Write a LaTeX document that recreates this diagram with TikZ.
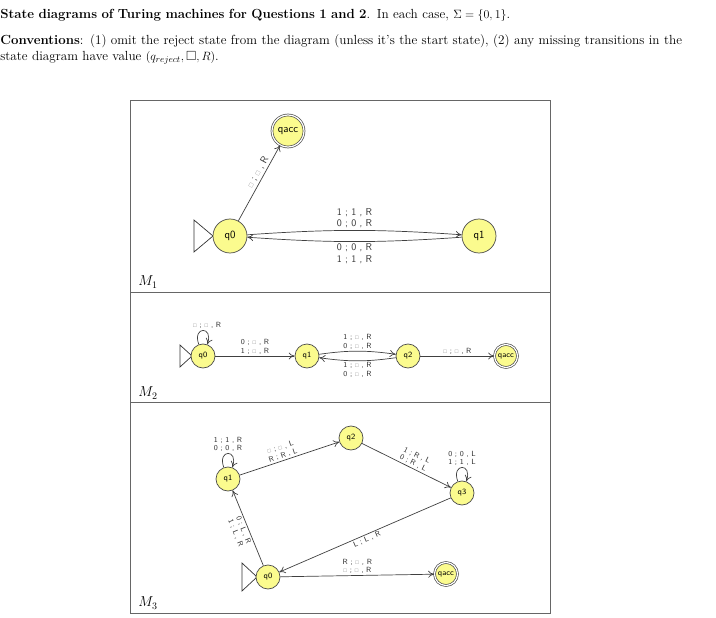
\documentclass[tikz,border=0pt]{standalone}
\usepackage{amssymb}
\usetikzlibrary{arrows.meta}
\definecolor{stfill}{HTML}{FBFB8E}
\newcommand{\bl}{{\color{gray}\scalebox{0.6}{$\square$}}}
\begin{document}
\begin{tikzpicture}[x=1pt,y=-1pt,line width=0.7pt,
  st/.style={circle,draw=black!70,fill=stfill,font=\sffamily\fontsize{8}{9}\selectfont,minimum size=#1,inner sep=0pt},
  st/.default=34pt,
  big/.style={font=\sffamily\fontsize{11}{12}\selectfont},
  acc/.style={st=#1,double,double distance=1.2pt},
  tr/.style={draw=black!75,-{To[length=6pt,width=7pt]}},
  lb/.style={font=\sffamily\fontsize{7.5}{8.5}\selectfont,align=center,text=black!80,inner sep=1.5pt},
  lbig/.style={font=\sffamily\fontsize{10}{11.5}\selectfont,align=center,text=black!80,inner sep=2pt},
  initri/.style={draw=black!80,fill=white}]
\useasboundingbox (0,0) rectangle (716,618);
% header
\node[anchor=north west,text width=700pt,align=left,inner sep=0pt,font=\fontsize{13.2}{16.5}\selectfont] at (0,9)
 {\textbf{State diagrams of Turing machines for Questions 1 and 2}. In each case, $\Sigma=\{0,1\}$.\\[9pt]
 \textbf{Conventions}: (1) omit the reject state from the diagram (unless it's the start state), (2) any missing transitions in the state diagram have value $(q_{reject},\square,R)$.};
% frames
\draw[black!60] (130,100) rectangle (550,613);
\draw[black!60] (130,292) -- (550,292);
\draw[black!60] (130,402) -- (550,402);
\node[font=\fontsize{14}{16}\selectfont] at (148,282) {$M_1$};
\node[font=\fontsize{14}{16}\selectfont] at (148,393) {$M_2$};
\node[font=\fontsize{14}{16}\selectfont] at (148,603) {$M_3$};
% M1
\draw[initri] (213,236) -- (194,220) -- (194,252) -- cycle;
\node[st,big] (a0) at (230,236) {q0};
\node[st,big] (a1) at (479,236) {q1};
\node[acc=32pt,big] (aacc) at (288,131) {qacc};
\draw[tr] (a0) to[bend left=4] node[lbig,above]{1 ; 1 , R\\0 ; 0 , R} (a1);
\draw[tr] (a1) to[bend left=4] node[lbig,below]{0 ; 0 , R\\1 ; 1 , R} (a0);
\draw[tr] (a0) -- node[lbig,above,sloped,pos=0.6]{\bl\ ; \bl\ , R} (aacc);
% M2
\draw[initri] (192,356) -- (180,345) -- (180,367) -- cycle;
\node[st=24pt] (b0) at (203,356) {q0};
\node[st=24pt] (b1) at (307,356) {q1};
\node[st=24pt] (b2) at (408,356) {q2};
\node[acc=23pt] (bacc) at (506,356) {qacc};
\draw[tr] (b0) to[out=110,in=70,looseness=6] node[lb,above,xshift=4pt]{\bl\ ; \bl\ , R} (b0);
\draw[tr] (b0) -- node[lb,above]{0 ; \bl\ , R\\1 ; \bl\ , R} (b1);
\draw[tr] (b1) to[bend left=8] node[lb,above]{1 ; \bl\ , R\\0 ; \bl\ , R} (b2);
\draw[tr] (b2) to[bend left=8] node[lb,below]{1 ; \bl\ , R\\0 ; \bl\ , R} (b1);
\draw[tr] (b2) -- node[lb,above]{\bl\ ; \bl\ , R} (bacc);
% M3
\draw[initri] (257,577) -- (242,563) -- (242,591) -- cycle;
\node[st=24pt] (c0) at (268,577) {q0};
\node[st=24pt] (c1) at (228,479) {q1};
\node[st=24pt] (c2) at (351,438) {q2};
\node[st=24pt] (c3) at (462,493) {q3};
\node[acc=23pt] (cacc) at (446,574) {qacc};
\draw[tr] (c1) to[out=110,in=70,looseness=6] node[lb,above]{1 ; 1 , R\\0 ; 0 , R} (c1);
\draw[tr] (c3) to[out=110,in=70,looseness=6] node[lb,above]{0 ; 0 , L\\1 ; 1 , L} (c3);
\draw[tr] (c0) -- node[lb,below,sloped]{0 ; L , R\\1 ; L , R} (c1);
\draw[tr] (c1) -- node[lb,above,sloped,pos=0.45]{\bl\ ; \bl\ , L\\R ; R , L} (c2);
\draw[tr] (c2) -- node[lb,above,sloped,pos=0.55]{1 ; R , L\\0 ; R , L} (c3);
\draw[tr] (c3) -- node[lb,below,sloped]{L ; L , R} (c0);
\draw[tr] (c0) -- node[lb,above]{R ; \bl\ , R\\\bl\ ; \bl\ , R} (cacc);
\end{tikzpicture}
\end{document}
